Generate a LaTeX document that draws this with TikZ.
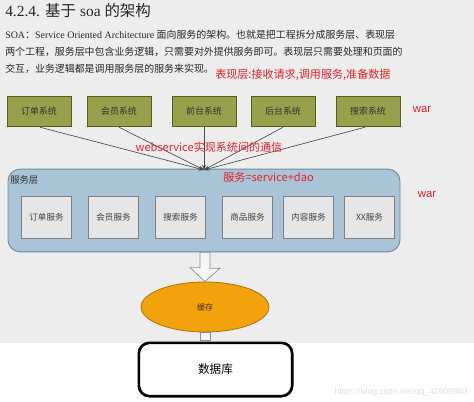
\documentclass[tikz,border=0pt]{standalone}
\usepackage{fontspec}
\setmainfont{Liberation Serif}
\newfontfamily\cjk{Noto Sans CJK SC}
\newfontfamily\wm{Liberation Sans}
\usetikzlibrary{arrows.meta,calc,shapes.geometric}
\definecolor{bgc}{HTML}{EDEDED}
\definecolor{olive}{HTML}{98A04C}
\definecolor{oliveb}{HTML}{55601F}
\definecolor{svcfill}{HTML}{A8C4D6}
\definecolor{svcdraw}{HTML}{6F8A9C}
\definecolor{boxfill}{HTML}{E6E6E6}
\definecolor{boxdraw}{HTML}{7F7F7F}
\definecolor{redt}{HTML}{E8202A}
\definecolor{orng}{HTML}{F2A20A}
\definecolor{orngb}{HTML}{A8740A}
\tikzset{
  sysbox/.style={draw=oliveb,fill=olive,line width=0.6pt,minimum width=48pt,minimum height=23pt,inner sep=0pt,font=\cjk\fontsize{6.7}{8}\selectfont,text=black!80},
  srvbox/.style={draw=boxdraw,fill=boxfill,line width=0.6pt,minimum width=38pt,minimum height=32pt,inner sep=0pt,font=\cjk\fontsize{6.4}{8}\selectfont,text=black!75},
  redlbl/.style={text=redt,font=\cjk\fontsize{8.3}{10}\selectfont,inner sep=0pt},
  bodyl/.style={anchor=west,inner sep=0pt,font=\fontsize{7.45}{9}\selectfont,text=black!85},
  conn/.style={draw=black!70,line width=0.5pt,-{Stealth[length=4pt,width=3pt]}},
  blockarr/.style={draw=black!45,fill=white!96!black,line width=0.5pt},
}
\begin{document}
\begin{tikzpicture}[x=0.75pt,y=-0.75pt]
\useasboundingbox (0,0) rectangle (474,402);
\fill[bgc] (0,0) rectangle (474,343);
\fill[white] (0,343) rectangle (474,402);
% title and body
\node[anchor=west,inner sep=0pt,font=\fontsize{11.6}{14}\selectfont,text=black!85] (title) at (5,11) {4.2.4. {\cjk 基于} soa {\cjk 的架构}};
\node[bodyl] (l1) at (5,35) {SOA{\cjk ：}Service Oriented Architecture {\cjk 面向服务的架构。也就是把工程拆分成服务层、表现层}};
\node[bodyl] (l2) at (5,52) {\cjk 两个工程，服务层中包含业务逻辑，只需要对外提供服务即可。表现层只需要处理和页面的};
\node[bodyl] (l3) at (5,69) {\cjk 交互，业务逻辑都是调用服务层的服务来实现。};
\node[redlbl,anchor=west] (r1) at (215,75) {表现层:接收请求,调用服务,准备数据};
% top systems
\node[sysbox] (s1) at (39,111.5) {订单系统};
\node[sysbox] (s2) at (119,111.5) {会员系统};
\node[sysbox] (s3) at (204,111.5) {前台系统};
\node[sysbox] (s4) at (283,111.5) {后台系统};
\node[sysbox] (s5) at (368,111.5) {搜索系统};
\node[text=redt,font=\wm\fontsize{8.5}{10}\selectfont,inner sep=0pt] (war1) at (422,110) {war};
% service layer
\node[draw=svcdraw,fill=svcfill,line width=0.7pt,rounded corners=9pt,minimum width=294pt,minimum height=62pt,inner sep=0pt] (svc) at (204,210.5) {};
\node[anchor=west,inner sep=0pt,font=\cjk\fontsize{7}{8}\selectfont,text=black!80] (svclbl) at (10,180) {服务层};
\node[redlbl,anchor=west] (r3) at (223,177) {服务=service+dao};
\node[text=redt,font=\wm\fontsize{8.5}{10}\selectfont,inner sep=0pt] (war2) at (427,195) {war};
\coordinate (hub) at (204,170);
\draw[conn] ($(s1.south)+(1,0)$) -- (hub);
\draw[conn] (s2.south) -- (hub);
\draw[conn] (s3.south) -- (hub);
\draw[conn] (s4.south) -- (hub);
\draw[conn] ($(s5.south)+(-3,0)$) -- (hub);
\node[redlbl] (r2) at (209,147) {webservice实现系统间的通信};
\node[srvbox] (v1) at (46.5,217.5) {订单服务};
\node[srvbox] (v2) at (113.5,217.5) {会员服务};
\node[srvbox] (v3) at (180.5,217.5) {搜索服务};
\node[srvbox] (v4) at (247.5,217.5) {商品服务};
\node[srvbox] (v5) at (308.5,217.5) {内容服务};
\node[srvbox] (v6) at (369.5,217.5) {XX服务};
% cache
\node[ellipse,draw=orngb,fill=orng,line width=0.6pt,minimum width=96pt,minimum height=37.5pt,inner sep=0pt,font=\cjk\fontsize{6}{7}\selectfont,text=black!70!orange] (cache) at (205,307) {缓存};
\draw[blockarr] ($(svc.south)+(-4,0)$) -- ++(10,0) -- ++(0,16) -- ++(10,0) -- (cache.north) -- ++(-15,-14) -- ++(10,0) -- cycle;
% database
\node[draw=black,line width=2pt,rounded corners=8pt,fill=white,minimum width=115pt,minimum height=40pt,inner sep=0pt,font=\cjk\fontsize{8.7}{10}\selectfont] (db) at (215.5,369.5) {数据库};
\draw[blockarr] ($(cache.south)+(-5,0)$) rectangle ($(db.north)+(5-10.5,-1)$);
\node[anchor=east,inner sep=0pt,font=\wm\fontsize{6.5}{8}\selectfont,text=black!12] (wmk) at (468,392) {https://blog.csdn.net/qq\_42609863};
\end{tikzpicture}
\end{document}
